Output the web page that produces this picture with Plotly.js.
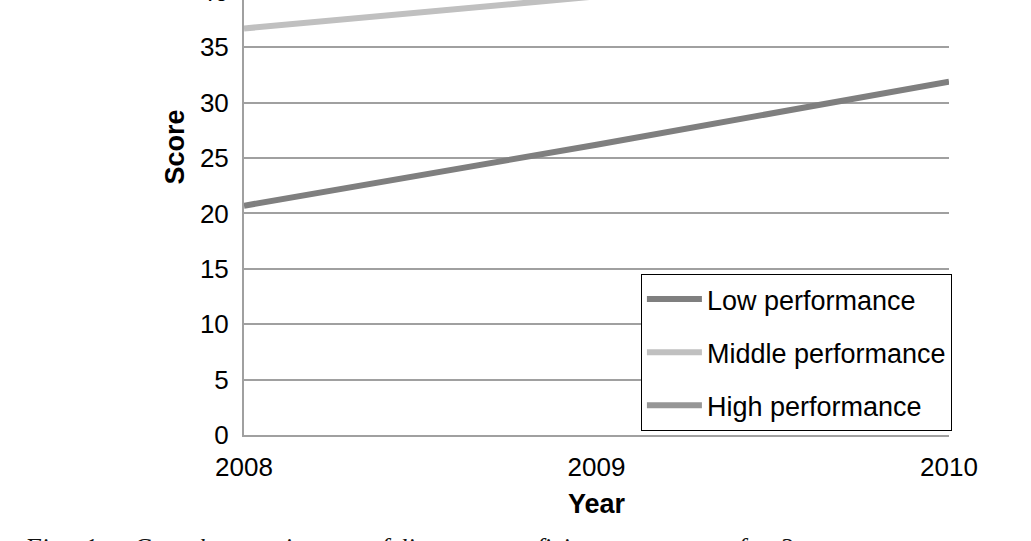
<!DOCTYPE html>
<html>
<head>
<meta charset="utf-8">
<script src="https://cdn.plot.ly/plotly-3.0.1.min.js"></script>
<style>
html,body{margin:0;padding:0;overflow:hidden;background:#fff;width:1031px;height:541px;}
#chart{position:absolute;left:0;top:-200px;width:1031px;height:781px;}
</style>
</head>
<body>
<div id="chart"></div>
<script>
var years = [2008, 2009, 2010];
var lowPerformance = [20.7, 26.2, 31.9];
var middlePerformance = [36.7, 39.6, 42.5];
var highPerformance = [45.5, 48.0, 50.5];
var seriesNames = ["Low performance", "Middle performance", "High performance"];
var yTicks = [0, 5, 10, 15, 20, 25, 30, 35, 40, 45, 50];
var captionWords = ["Fig.", "1", "Growth", "trajectory", "of", "literacy", "proficiency", "scores", "for", "3", "groups"];

var colors = ["#7f7f7f", "#c0c0c0", "#969696"];
var series = [lowPerformance, middlePerformance, highPerformance];

var traces = series.map(function (vals, i) {
  return {
    x: years, y: vals, type: "scatter", mode: "lines",
    name: seriesNames[i], legendgroup: "g" + i,
    line: {color: colors[i], width: 6}
  };
});

// caption word start positions in page pixels (justified text in the source)
var captionX = [22, 82, 131, 252, 366, 398, 497, 630, 736, 777, 800];
var plotLeft = 244, plotWidth = 705;
var captionAnn = captionWords.map(function (w, i) {
  return {
    text: "<i>" + w + "</i>",
    xref: "paper", yref: "paper",
    x: (captionX[i] - plotLeft) / plotWidth, y: -0.1665,
    xanchor: "left", yanchor: "top", showarrow: false,
    font: {family: "Liberation Serif, Times New Roman, serif", size: 26, color: "#111"}
  };
});

var layout = {
  width: 1031, height: 781,
  margin: {l: 244, r: 82, t: 59, b: 146},
  paper_bgcolor: "#fff", plot_bgcolor: "#fff",
  font: {family: "Liberation Sans, Arial, sans-serif", color: "#000", size: 26},
  showlegend: true,
  legend: {
    x: 0.563, y: 0.2795, xanchor: "left", yanchor: "top",
    bgcolor: "#fff", bordercolor: "#000", borderwidth: 1,
    font: {size: 27, color: "#000"},
    traceorder: "grouped", tracegroupgap: 15, itemwidth: 55
  },
  xaxis: {
    range: [2008, 2010], tickvals: years, ticktext: years.map(String),
    showgrid: false, zeroline: false,
    showline: true, linecolor: "#a0a0a0", linewidth: 2,
    ticks: "", ticklabelstandoff: 8,
    tickfont: {size: 26},
    title: {text: "<b>Year</b>", font: {size: 27}, standoff: 13},
    automargin: false
  },
  yaxis: {
    range: [0, 52], tickvals: yTicks,
    showgrid: true, gridcolor: "#a0a0a0", gridwidth: 2,
    zeroline: false,
    showline: true, linecolor: "#a0a0a0", linewidth: 2,
    ticks: "", ticklabelstandoff: 8,
    tickfont: {size: 26},
    title: {text: "<b>Score</b>", font: {size: 27}, standoff: 7},
    automargin: false
  },
  annotations: captionAnn
};

Plotly.newPlot("chart", traces, layout, {displayModeBar: false, staticPlot: true});
</script>
</body>
</html>
